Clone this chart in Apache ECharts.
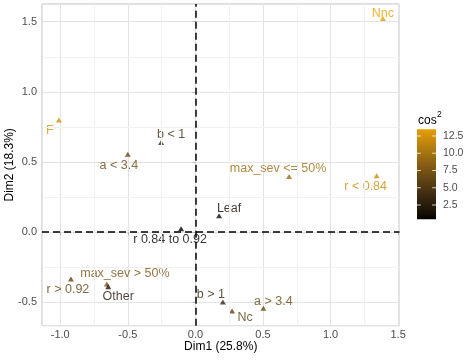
<!DOCTYPE html>
<html><head><meta charset="utf-8">
<script src="https://cdn.jsdelivr.net/npm/echarts@6/dist/echarts.min.js"></script>
<style>html,body{margin:0;padding:0;background:#fff}#c{width:474px;height:360px}</style>
</head><body><div id="c"></div>
<script>
// ---- data ----
const categories = ["Nnc","F","a < 3.4","b < 1","max_sev <= 50%","r < 0.84","Leaf","r 0.84 to 0.92","r > 0.92","max_sev > 50%","Other","b > 1","Nc","a > 3.4"];
const dim1 = [1.387,-1.010,-0.500,-0.254,0.693,1.341,0.175,-0.106,-0.921,-0.655,-0.645,0.203,0.271,0.503];
const dim2 = [1.523,0.799,0.556,0.639,0.397,0.402,0.118,0.024,-0.333,-0.369,-0.388,-0.497,-0.561,-0.542];
const cos2 = [13.47,12.5,6.5,4.0,9.5,12.0,1.0,0.43,6.0,7.5,2.0,3.5,6.0,6.5];
const legendTicks = [2.5,5,7.5,10,12.5];
const xTitle = "Dim1 (25.8%)";
const yTitle = "Dim2 (18.3%)";
const legendTitle = "cos";
const legendSup = "2";

// ---- styles / layout ----
const labelOffsets = [[0,-5],[-9,10],[-9,11],[10,-8],[-11,-8],[-11,11],[10,-7],[-11,11],[-3,11],[18,-10],[10,10],[-12,-7],[13,7],[10,-7]];
const FONT = "'Liberation Sans', Arial, Helvetica, sans-serif";
const LOW = "#000000", HIGH = "#E69F00";
const X_MIN=-1.135, X_MAX=1.51, Y_MIN=-0.666, Y_MAX=1.626;

// Lab interpolation (like ggplot2 gradient)
function hexToRgb(h){h=h.replace('#','');return [parseInt(h.substr(0,2),16),parseInt(h.substr(2,2),16),parseInt(h.substr(4,2),16)];}
function toLin(c){c/=255;return c<=0.04045?c/12.92:Math.pow((c+0.055)/1.055,2.4);}
function fromLin(c){c=c<=0.0031308?12.92*c:1.055*Math.pow(Math.max(c,0),1/2.4)-0.055;return Math.round(Math.max(0,Math.min(1,c))*255);}
function rgb2lab(rgb){const R=toLin(rgb[0]),G=toLin(rgb[1]),B=toLin(rgb[2]);
  const X=(R*0.4124+G*0.3576+B*0.1805)/0.95047,Y=(R*0.2126+G*0.7152+B*0.0722),Z=(R*0.0193+G*0.1192+B*0.9505)/1.08883;
  const f=t=>t>0.008856?Math.cbrt(t):7.787*t+16/116;const fx=f(X),fy=f(Y),fz=f(Z);
  return [116*fy-16,500*(fx-fy),200*(fy-fz)];}
function lab2rgb(lab){const fy=(lab[0]+16)/116,fx=fy+lab[1]/500,fz=fy-lab[2]/200;
  const finv=t=>t*t*t>0.008856?t*t*t:(t-16/116)/7.787;
  const X=finv(fx)*0.95047,Y=finv(fy),Z=finv(fz)*1.08883;
  const R=X*3.2406+Y*-1.5372+Z*-0.4986,G=X*-0.9689+Y*1.8758+Z*0.0415,B=X*0.0557+Y*-0.2040+Z*1.0570;
  return 'rgb('+fromLin(R)+','+fromLin(G)+','+fromLin(B)+')';}
const labLow=rgb2lab(hexToRgb(LOW)), labHigh=rgb2lab(hexToRgb(HIGH));
const cmin=Math.min(...cos2), cmax=Math.max(...cos2);
function colorAt(v){const t=Math.max(0,Math.min(1,(v-cmin)/(cmax-cmin)));
  return lab2rgb([0,1,2].map(k=>labLow[k]+(labHigh[k]-labLow[k])*t));}

const points = categories.map((n,i)=>{const col=colorAt(cos2[i]);return {
  name:n, value:[dim1[i],dim2[i],cos2[i]], itemStyle:{color:col},
  label:{show:true, formatter:n, position:'inside', offset:labelOffsets[i], color:col,
    fontSize:12.5, fontFamily:FONT, textBorderWidth:0}};});

// minor grid positions (midpoints between major 0.5 ticks)
function minors(lo,hi){const r=[];for(let v=Math.ceil(lo/0.25)*0.25; v<=hi; v+=0.25){const k=Math.round(v/0.25);if(k%2!==0)r.push(+(k*0.25).toFixed(2));}return r;}
const minorData=[...minors(X_MIN,X_MAX).map(v=>({xAxis:v})),...minors(Y_MIN,Y_MAX).map(v=>({yAxis:v}))];

// legend graphics
const BAR={x:417,y:129.3,w:19,h:90};
const stops=[];for(let i=0;i<=24;i++){stops.push({offset:i/24,color:colorAt(cmax-(cmax-cmin)*i/24)});}
const graphics=[{type:'rect',shape:{x:BAR.x,y:BAR.y,width:BAR.w,height:BAR.h},style:{fill:new echarts.graphic.LinearGradient(0,0,0,1,stops)},z:10}];
legendTicks.forEach(v=>{const y=BAR.y+(cmax-v)/(cmax-cmin)*BAR.h;
  graphics.push({type:'line',shape:{x1:BAR.x,y1:y,x2:BAR.x+3.8,y2:y},style:{stroke:'#fff',lineWidth:0.8},z:11});
  graphics.push({type:'line',shape:{x1:BAR.x+BAR.w-3.8,y1:y,x2:BAR.x+BAR.w,y2:y},style:{stroke:'#fff',lineWidth:0.8},z:11});
  graphics.push({type:'text',x:443,y:y,style:{text:v.toFixed(1),fontSize:10.5,fontFamily:FONT,fill:'#4D4D4D',verticalAlign:'middle',align:'left'},z:11});});
graphics.push({type:'text',x:418,y:121,style:{text:legendTitle,fontSize:12,fontFamily:FONT,fill:'#000',verticalAlign:'middle'},z:11});
graphics.push({type:'text',x:437,y:115,style:{text:legendSup,fontSize:8.5,fontFamily:FONT,fill:'#000',verticalAlign:'middle'},z:11});

const axisCommon={type:'value',nameLocation:'middle',nameMoveOverlap:false,
  nameTextStyle:{fontSize:12,color:'#000',fontFamily:FONT},
  axisLine:{show:false},
  axisTick:{show:true,length:3,lineStyle:{color:'#B3B3B3',width:1}},
  axisLabel:{fontSize:11,color:'#4D4D4D',fontFamily:FONT,showMinLabel:false,showMaxLabel:false,formatter:v=>(+v).toFixed(1)},
  splitLine:{show:true,lineStyle:{color:'#E3E3E3',width:1}}};

const option={
  animation:false,
  grid:{left:42,top:4,width:357.5,height:321.7,show:true,borderColor:'#BDBDBD',borderWidth:1,backgroundColor:'#fff',
        containLabel:false,outerBoundsMode:'none'},
  xAxis:Object.assign({},axisCommon,{min:X_MIN,max:X_MAX,name:xTitle,nameGap:15,axisLabel:Object.assign({},axisCommon.axisLabel,{margin:4})}),
  yAxis:Object.assign({},axisCommon,{min:Y_MIN,max:Y_MAX,name:yTitle,nameGap:26,axisLabel:Object.assign({},axisCommon.axisLabel,{margin:5})}),
  graphic:graphics,
  series:[
    {type:'scatter',data:[],z:1,silent:true,
     markLine:{silent:true,symbol:'none',label:{show:false},lineStyle:{color:'#F1F1F1',width:1,type:'solid'},data:minorData,animation:false}},
    {type:'scatter',data:[],z:2,silent:true,
     markLine:{silent:true,symbol:'none',label:{show:false},lineStyle:{color:'#000',width:1.5,type:[7,4]},data:[{xAxis:0},{yAxis:0}],animation:false}},
    {type:'scatter',z:3,symbol:'triangle',symbolSize:[6,5],data:points}
  ]
};
const chart=echarts.init(document.getElementById('c'),null,{renderer:'canvas'});
chart.setOption(option);
</script></body></html>
